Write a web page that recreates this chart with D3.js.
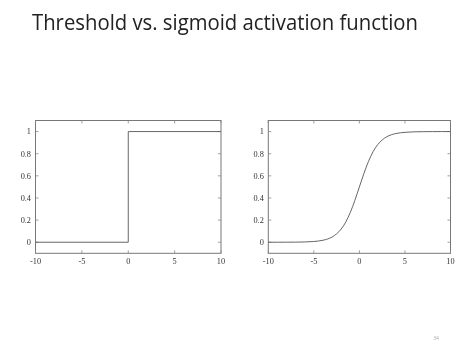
<!DOCTYPE html>
<html>
<head>
<meta charset="utf-8">
<script src="https://cdn.jsdelivr.net/npm/d3@7"></script>
<style>
  body { margin: 0; background: #fff; }
  svg { display: block; will-change: transform; }
  .tick-label { font-family: "Liberation Serif", "DejaVu Serif", serif; font-size: 8.3px; fill: #333; }
</style>
</head>
<body>
<div id="chart"></div>
<script>
// chart data
const titleText = "Threshold vs. sigmoid activation function";
const pageNumber = "34";
const xTicks = [-10, -5, 0, 5, 10];
const yTicks = [0, 0.2, 0.4, 0.6, 0.8, 1];
const yTickLabels = ["0", "0.2", "0.4", "0.6", "0.8", "1"];

// threshold (step) function
const thresholdX = [-10, 0, 0, 10];
const thresholdY = [0, 0, 1, 1];

// sigmoid curve
const sigmoidX = [-10, -9, -8, -7, -6, -5, -4.5, -4, -3.5, -3, -2.5, -2, -1.5, -1, -0.5, 0,
                  0.5, 1, 1.5, 2, 2.5, 3, 3.5, 4, 4.5, 5, 6, 7, 8, 9, 10];
const sigmoidY = [0.0000, 0.0001, 0.0003, 0.0009, 0.0025, 0.0067, 0.011, 0.018, 0.029, 0.047, 0.076, 0.119, 0.182, 0.269, 0.378, 0.5,
                  0.622, 0.731, 0.818, 0.881, 0.924, 0.953, 0.971, 0.982, 0.989, 0.993, 0.9975, 0.9991, 0.9997, 0.9999, 1.0];

const width = 474, height = 355;
const svg = d3.select("#chart").append("svg")
  .attr("width", width)
  .attr("height", height);

svg.append("rect").attr("width", width).attr("height", height).attr("fill", "#fff");

// title
svg.append("text")
  .attr("x", 32)
  .attr("y", 30)
  .attr("textLength", 386)
  .attr("lengthAdjust", "spacingAndGlyphs")
  .style("font-family", "'Open Sans', 'Noto Sans', sans-serif")
  .style("font-size", "22.5px")
  .style("fill", "#222")
  .text(titleText);

// page number
svg.append("text")
  .attr("x", 436)
  .attr("y", 340)
  .attr("text-anchor", "middle")
  .style("font-family", "'Open Sans', sans-serif")
  .style("font-size", "5px")
  .style("fill", "#aaa")
  .text(pageNumber);

const panels = [
  { left: 35.5, right: 221, xs: thresholdX, ys: thresholdY, curve: d3.curveLinear },
  { left: 268.3, right: 450.5, xs: sigmoidX, ys: sigmoidY, curve: d3.curveMonotoneX }
];
const plotTop = 120.5, plotBottom = 253.3;
const tickLen = 3;

panels.forEach(p => {
  const x = d3.scaleLinear().domain([-10, 10]).range([p.left, p.right]);
  const y = d3.scaleLinear().domain([-0.1, 1.1]).range([plotBottom, plotTop]);
  const g = svg.append("g");

  // frame
  g.append("rect")
    .attr("x", p.left)
    .attr("y", plotTop)
    .attr("width", p.right - p.left)
    .attr("height", plotBottom - plotTop)
    .attr("fill", "none")
    .attr("stroke", "#777")
    .attr("stroke-width", 1);

  // inward ticks on all sides (gnuplot style)
  const ticksG = g.append("g").attr("stroke", "#888").attr("stroke-width", 0.8);
  yTicks.forEach(v => {
    ticksG.append("line").attr("x1", p.left).attr("x2", p.left + tickLen).attr("y1", y(v)).attr("y2", y(v));
    ticksG.append("line").attr("x1", p.right).attr("x2", p.right - tickLen).attr("y1", y(v)).attr("y2", y(v));
  });
  xTicks.forEach(v => {
    ticksG.append("line").attr("x1", x(v)).attr("x2", x(v)).attr("y1", plotBottom).attr("y2", plotBottom - tickLen);
    ticksG.append("line").attr("x1", x(v)).attr("x2", x(v)).attr("y1", plotTop).attr("y2", plotTop + tickLen);
  });

  // tick labels
  const labels = g.append("g");
  labels.selectAll(".ylab")
    .data(yTicks).enter()
    .append("text")
    .attr("class", "tick-label")
    .attr("x", p.left - 4.5)
    .attr("y", d => y(d))
    .attr("dy", "0.35em")
    .attr("text-anchor", "end")
    .text((d, i) => yTickLabels[i]);

  labels.selectAll(".xlab")
    .data(xTicks).enter()
    .append("text")
    .attr("class", "tick-label")
    .attr("x", d => x(d))
    .attr("y", 261.5)
    .attr("dy", "0.35em")
    .attr("text-anchor", "middle")
    .text(d => d);

  // the curve
  const pts = p.xs.map((v, i) => [v, p.ys[i]]);
  const line = d3.line()
    .curve(p.curve)
    .x(d => x(d[0]))
    .y(d => y(d[1]));
  g.append("path")
    .attr("d", line(pts))
    .attr("fill", "none")
    .attr("stroke", "#666")
    .attr("stroke-width", 1);
});
</script>
</body>
</html>
